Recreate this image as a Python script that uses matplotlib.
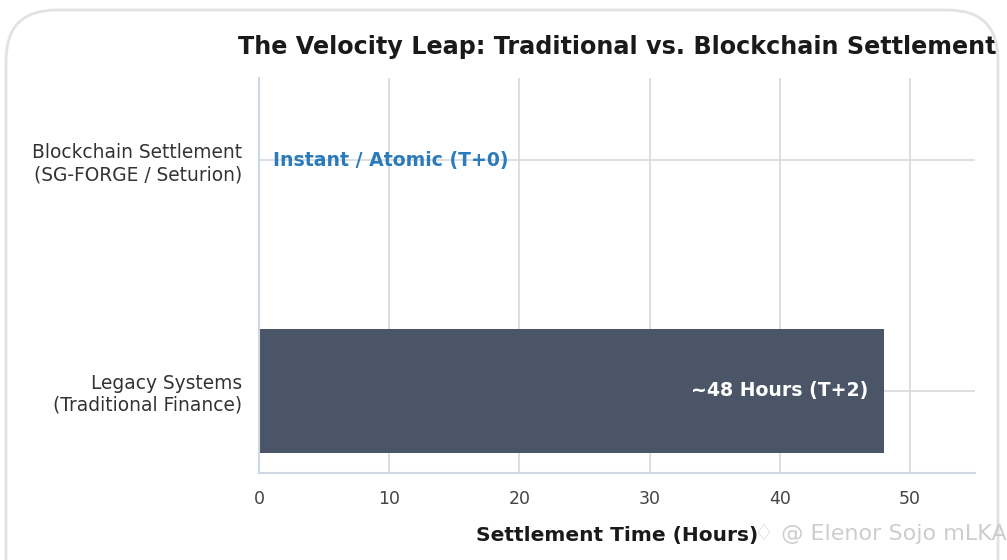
import numpy as np
import matplotlib
matplotlib.use("Agg")
import matplotlib.pyplot as plt
from matplotlib.patches import FancyBboxPatch

# Data
categories = ["Legacy Systems\n(Traditional Finance)",
              "Blockchain Settlement\n(SG-FORGE / Seturion)"]
settlement_hours = [48, 0.01]
bar_labels = ["~48 Hours (T+2)", "Instant / Atomic (T+0)"]
bar_colors = ["#4a5568", "#2b7bba"]
x_ticks = [0, 10, 20, 30, 40, 50]

plt.rcParams['font.family'] = ['DejaVu Sans']

fig = plt.figure(figsize=(10.07, 5.6), dpi=100)
ax = fig.add_axes([259 / 1007, 1 - 473 / 560, (975 - 259) / 1007, (473 - 78) / 560])

# rounded card frame around the chart
frame = FancyBboxPatch((6 / 1007, -0.1), 992 / 1007, (560 - 10) / 560 + 0.1,
                       boxstyle="round,pad=0,rounding_size=0.05",
                       transform=fig.transFigure, facecolor="none",
                       edgecolor="#e2e2e2", linewidth=2, zorder=0,
                       mutation_aspect=1007 / 560)
fig.patches.append(frame)

y = np.arange(len(categories))
ax.barh(y, settlement_hours, height=0.535, color=bar_colors, zorder=2)

# annotations
ax.text(settlement_hours[0] - 1.2, y[0], bar_labels[0], ha='right', va='center',
        color='white', fontsize=13.6, fontweight='bold', zorder=3)
ax.text(1.05, y[1], bar_labels[1], ha='left', va='center',
        color='#2b7bba', fontsize=13.6, fontweight='bold', zorder=3)

ax.set_xlim(0, 55)
ax.set_ylim(-0.355, 1.355)
ax.set_yticks(y)
ax.set_yticklabels(categories, fontsize=13.4, color='#333333')
ax.set_xticks(x_ticks)
ax.tick_params(axis='x', length=0, pad=12, labelsize=12.5, labelcolor='#444444')
ax.tick_params(axis='y', length=0, pad=12)

ax.grid(True, color='#d5d8dc', linewidth=1.2)
ax.set_axisbelow(True)
for s in ['top', 'right']:
    ax.spines[s].set_visible(False)
for s in ['left', 'bottom']:
    ax.spines[s].set_color('#d0d7e0')
    ax.spines[s].set_linewidth(1.5)

ax.set_xlabel("Settlement Time (Hours)", fontsize=14.5, fontweight='bold',
              color='#1a1a1a', labelpad=13)
ax.set_title("The Velocity Leap: Traditional vs. Blockchain Settlement",
             fontsize=17.2, fontweight='bold', color='#1a1a1a', pad=17)

# watermark
fig.text(1.0, 1 - 534 / 560, "\u2662 @ Elenor Sojo mLKA", ha='right',
         va='center', fontsize=16, color='#c8c8c8', alpha=0.9)

fig.savefig("out.png", dpi=100)
